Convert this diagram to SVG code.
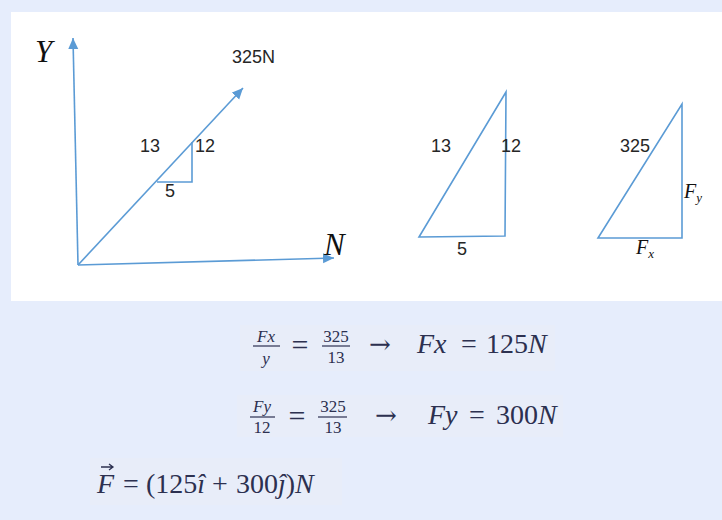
<svg xmlns="http://www.w3.org/2000/svg" width="722" height="520" viewBox="0 0 722 520">
  <defs>
    <marker id="ah" markerUnits="userSpaceOnUse" markerWidth="14" markerHeight="12" refX="11" refY="5" orient="auto">
      <path d="M0,0 L11,5 L0,10 Z" fill="#5B9BD5"/>
    </marker>
  </defs>
  <style>
    .ln { stroke: #5B9BD5; stroke-width: 1.6; fill: none; }
    .lbl { font-family: "Liberation Sans", Arial, sans-serif; font-size: 18px; fill: #262626; }
    .ax { font-family: "Liberation Serif", "DejaVu Serif", serif; font-style: italic; fill: #111; }
    .eq { font-family: "Liberation Serif", "DejaVu Serif", serif; fill: #2C3050; }
    .it { font-style: italic; }
    .arr { font-family: "DejaVu Serif", serif; }
    .bar { stroke: #2C3050; stroke-width: 1.2; }
  </style>
  <rect x="0" y="0" width="722" height="520" fill="#E6EDFC"/>
  <rect x="11" y="12" width="711" height="289" fill="#FFFFFF"/>
  <!-- subtle equation boxes -->
  <rect x="240" y="325" width="315" height="46" fill="#E8EDF9"/>
  <rect x="237" y="395" width="326" height="42" fill="#E8EDF9"/>
  <rect x="90" y="458" width="252" height="47" fill="#E8EDF9"/>

  <g id="connectors">
    <line id="y-axis" class="ln" x1="78" y1="265" x2="73" y2="38" marker-end="url(#ah)"/>
    <line id="n-axis" class="ln" x1="78" y1="265" x2="334" y2="258" marker-end="url(#ah)"/>
    <line id="force" class="ln" x1="78" y1="265" x2="243" y2="88" marker-end="url(#ah)"/>
    <polyline id="small-tri" class="ln" points="157,182 192,182 192,142"/>
  </g>

  <g id="axis-labels">
    <text class="ax" x="35" y="62" font-size="31">Y</text>
    <text class="ax" x="324" y="255" font-size="31">N</text>
    <text class="lbl" x="232" y="63">325N</text>
    <text class="lbl" x="140" y="152">13</text>
    <text class="lbl" x="195" y="152">12</text>
    <text class="lbl" x="165" y="197">5</text>
  </g>

  <g id="triangle-1">
    <polygon class="ln" points="419,237 505,236 506,92"/>
    <text class="lbl" x="431" y="152">13</text>
    <text class="lbl" x="501" y="152">12</text>
    <text class="lbl" x="457" y="255">5</text>
  </g>

  <g id="triangle-2">
    <polygon class="ln" points="598,238 682,238 682,104"/>
    <text class="lbl" x="620" y="152">325</text>
    <text class="ax" x="684" y="198" font-size="20">F<tspan font-size="13" dy="4">y</tspan></text>
    <text class="ax" x="636" y="254" font-size="20">F<tspan font-size="13" dy="4">x</tspan></text>
  </g>

  <g id="equation-1" class="eq">
    <text x="266" y="342" font-size="17" text-anchor="middle" class="it">Fx</text>
    <line class="bar" x1="253" y1="346" x2="280" y2="346"/>
    <text x="266" y="364" font-size="17" text-anchor="middle" class="it">y</text>
    <text x="300" y="355" font-size="30" text-anchor="middle">=</text>
    <text x="336" y="342" font-size="17" text-anchor="middle">325</text>
    <line class="bar" x1="322" y1="346" x2="350" y2="346"/>
    <text x="336" y="363" font-size="17" text-anchor="middle">13</text>
    <text class="arr" x="380" y="353" font-size="26" text-anchor="middle">→</text>
    <text x="417" y="353" font-size="28" class="it">Fx</text>
    <text x="469" y="353" font-size="28" text-anchor="middle">=</text>
    <text x="486" y="353" font-size="28">125<tspan class="it">N</tspan></text>
  </g>

  <g id="equation-2" class="eq">
    <text x="262" y="412" font-size="17" text-anchor="middle" class="it">Fy</text>
    <line class="bar" x1="250" y1="417" x2="275" y2="417"/>
    <text x="262" y="433" font-size="17" text-anchor="middle">12</text>
    <text x="297" y="426" font-size="30" text-anchor="middle">=</text>
    <text x="333" y="412" font-size="17" text-anchor="middle">325</text>
    <line class="bar" x1="318" y1="417" x2="347" y2="417"/>
    <text x="333" y="433" font-size="17" text-anchor="middle">13</text>
    <text class="arr" x="386" y="424" font-size="26" text-anchor="middle">→</text>
    <text x="428" y="424" font-size="28" class="it">Fy</text>
    <text x="477" y="424" font-size="28" text-anchor="middle">=</text>
    <text x="496" y="424" font-size="28">300<tspan class="it">N</tspan></text>
  </g>

  <g id="equation-3" class="eq">
    <path d="M101,467 L113,467 M109,464 L113,467 L109,470" stroke="#2C3050" stroke-width="1.3" fill="none"/>
    <text x="97" y="493" font-size="28" class="it">F</text>
    <text x="131" y="493" font-size="28" text-anchor="middle">=</text>
    <text x="146" y="493" font-size="28">(125<tspan class="it">î</tspan></text>
    <text x="220" y="493" font-size="28" text-anchor="middle">+</text>
    <text x="236" y="493" font-size="28">300<tspan class="it">ĵ</tspan>)<tspan class="it">N</tspan></text>
  </g>
</svg>
